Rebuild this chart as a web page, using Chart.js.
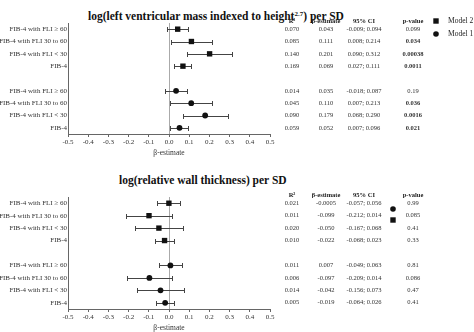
<!DOCTYPE html>
<html>
<head>
<meta charset="utf-8">
<script src="https://cdn.jsdelivr.net/npm/chart.js@4.4.0/dist/chart.umd.min.js"></script>
<style>
  body { margin: 0; background: #fff; width: 474px; height: 332px; overflow: hidden; position: relative; font-family: 'Liberation Serif', serif; }
  .title { position: absolute; font-weight: bold; font-size: 11.5px; line-height: 12px; color: #111; white-space: nowrap; }
  .title sup { font-size: 7px; vertical-align: 4px; line-height: 0; }
  canvas { position: absolute; left: 0; }
</style>
</head>
<body>
<div class="title" style="left:88px;top:10px">log(left ventricular mass indexed to height<sup>2.7</sup>) per SD</div>
<div class="title" style="left:119px;top:174px">log(relative wall thickness) per SD</div>
<canvas id="lvm" width="474" height="158" style="top:0"></canvas>
<canvas id="rwt" width="474" height="167" style="top:166px"></canvas>
<script>
const rowLabels = [
  'FIB-4 with FLI \u2265 60', 'FIB-4 with FLI 30 to 60', 'FIB-4 with FLI < 30', 'FIB-4', '',
  'FIB-4 with FLI \u2265 60', 'FIB-4 with FLI 30 to 60', 'FIB-4 with FLI < 30', 'FIB-4'
];
const model2Rows = [0, 1, 2, 3];
const model1Rows = [5, 6, 7, 8];
const xTickValues = [-0.5, -0.4, -0.3, -0.2, -0.1, 0, 0.1, 0.2, 0.3, 0.4, 0.5];
const xTickLabels = ['-0.5', '-0.4', '-0.3', '-0.2', '-0.1', '0.0', '0.1', '0.2', '0.3', '0.4', '0.5'];
const tableHeaders = ['R\u00b2', '\u03b2-estimate', '95% CI', 'p-value'];
const legendLabels = ['Model 2', 'Model 1'];

// left ventricular mass
const lvmM2R2 = ['0.070', '0.085', '0.140', '0.169'];
const lvmM2Beta = ['0.043', '0.111', '0.201', '0.069'];
const lvmM2CI = ['-0.009; 0.094', '0.008; 0.214', '0.090; 0.312', '0.027; 0.111'];
const lvmM2P = ['0.099', '0.034', '0.00038', '0.0011'];
const lvmM1R2 = ['0.014', '0.045', '0.090', '0.059'];
const lvmM1Beta = ['0.035', '0.110', '0.179', '0.052'];
const lvmM1CI = ['-0.018; 0.087', '0.007; 0.213', '0.068; 0.290', '0.007; 0.096'];
const lvmM1P = ['0.19', '0.036', '0.0016', '0.021'];

// relative wall thickness
const rwtM2R2 = ['0.021', '0.011', '0.020', '0.010'];
const rwtM2Beta = ['-0.0005', '-0.099', '-0.050', '-0.022'];
const rwtM2CI = ['-0.057; 0.056', '-0.212; 0.014', '-0.167; 0.068', '-0.068; 0.023'];
const rwtM2P = ['0.99', '0.085', '0.41', '0.33'];
const rwtM1R2 = ['0.011', '0.006', '0.014', '0.005'];
const rwtM1Beta = ['0.007', '-0.097', '-0.042', '-0.019'];
const rwtM1CI = ['-0.049; 0.063', '-0.209; 0.014', '-0.156; 0.073', '-0.064; 0.026'];
const rwtM1P = ['0.81', '0.086', '0.47', '0.41'];

const FONT = "'Liberation Serif', serif";
const colX = [292, 326, 364, 413];

function points(rows, beta, ci) {
  return rows.map((r, i) => {
    const [lo, hi] = ci[i].split('; ').map(parseFloat);
    return { x: parseFloat(beta[i]), y: r, lo: lo, hi: hi };
  });
}

function drawMarker(ctx, style, x, y) {
  ctx.fillStyle = '#111';
  ctx.beginPath();
  if (style === 'rect') ctx.rect(x - 2.7, y - 2.7, 5.4, 5.4);
  else ctx.arc(x, y, 2.8, 0, Math.PI * 2);
  ctx.fill();
}

function makePlugins(tableRows, legend) {
  const errorBars = {
    id: 'errorBars',
    beforeDatasetsDraw(chart) {
      const ctx = chart.ctx, xs = chart.scales.x, ys = chart.scales.y;
      ctx.save();
      ctx.strokeStyle = '#444';
      ctx.lineWidth = 1;
      chart.data.datasets.forEach(ds => ds.data.forEach(p => {
        const y = Math.round(ys.getPixelForValue(p.y)) + 0.5;
        const x1 = Math.round(xs.getPixelForValue(p.lo)) + 0.5;
        const x2 = Math.round(xs.getPixelForValue(p.hi)) + 0.5;
        ctx.beginPath();
        ctx.moveTo(x1, y); ctx.lineTo(x2, y);
        ctx.moveTo(x1, y - 2.5); ctx.lineTo(x1, y + 2.5);
        ctx.moveTo(x2, y - 2.5); ctx.lineTo(x2, y + 2.5);
        ctx.stroke();
      }));
      ctx.restore();
    }
  };
  const table = {
    id: 'table',
    afterDraw(chart) {
      const ctx = chart.ctx, ys = chart.scales.y;
      ctx.save();
      ctx.textAlign = 'center';
      ctx.textBaseline = 'middle';
      ctx.fillStyle = '#222';
      ctx.font = 'bold 6.5px ' + FONT;
      const hy = chart.chartArea.top - 2;
      tableHeaders.forEach((h, i) => ctx.fillText(h, colX[i], hy));
      tableRows.forEach(t => {
        const y = ys.getPixelForValue(t.row);
        ctx.fillStyle = '#333';
        ctx.font = '6.5px ' + FONT;
        ctx.fillText(t.r2, colX[0], y);
        ctx.fillText(t.beta, colX[1], y);
        ctx.fillText(t.ci, colX[2], y);
        if (parseFloat(t.p) < 0.05) ctx.font = 'bold 6.5px ' + FONT;
        ctx.fillText(t.p, colX[3], y);
      });
      legend.forEach(l => {
        drawMarker(ctx, l.style, l.x, l.y);
        if (l.text) {
          ctx.fillStyle = '#222';
          ctx.font = '7.5px ' + FONT;
          ctx.textAlign = 'left';
          ctx.fillText(l.text, l.x + 12, l.y);
        }
      });
      ctx.restore();
    }
  };
  return [errorBars, table];
}

function buildChart(id, topPad, m2, m1, legend) {
  const tableRows = [];
  model2Rows.forEach((r, i) => tableRows.push({ row: r, r2: m2.r2[i], beta: m2.beta[i], ci: m2.ci[i], p: m2.p[i] }));
  model1Rows.forEach((r, i) => tableRows.push({ row: r, r2: m1.r2[i], beta: m1.beta[i], ci: m1.ci[i], p: m1.p[i] }));
  return new Chart(document.getElementById(id), {
    type: 'scatter',
    data: {
      datasets: [
        { label: legendLabels[0], data: points(model2Rows, m2.beta, m2.ci), pointStyle: 'rect', pointRadius: 3.8, backgroundColor: '#111', borderColor: '#111', borderWidth: 0 },
        { label: legendLabels[1], data: points(model1Rows, m1.beta, m1.ci), pointStyle: 'circle', pointRadius: 2.9, backgroundColor: '#111', borderColor: '#111', borderWidth: 0 }
      ]
    },
    options: {
      responsive: false,
      animation: false,
      layout: { padding: { top: topPad, right: 204, left: 0, bottom: 0 } },
      plugins: { legend: { display: false }, tooltip: { enabled: false } },
      scales: {
        x: {
          type: 'linear', min: -0.5, max: 0.5,
          afterBuildTicks: s => { s.ticks = xTickValues.map(v => ({ value: v })); },
          grid: { color: c => (c.tick && c.tick.value === 0 ? '#aaa' : 'rgba(0,0,0,0)'), tickColor: '#666', tickLength: 3 },
          border: { color: '#666' },
          ticks: { callback: (v, i) => xTickLabels[i], color: '#333', font: { family: FONT, size: 7 }, padding: 1, maxRotation: 0, autoSkip: false },
          title: { display: true, text: '\u03b2-estimate', color: '#333', font: { family: FONT, size: 7.5 }, padding: 0 },
          afterFit: s => { s.height = 24; }
        },
        y: {
          type: 'linear', reverse: true, min: -0.5, max: rowLabels.length - 0.5,
          afterBuildTicks: s => { s.ticks = rowLabels.map((l, i) => ({ value: i })); },
          grid: { display: false, drawTicks: false },
          border: { display: true, color: '#666' },
          ticks: { callback: (v, i) => rowLabels[i], color: '#333', font: { family: FONT, size: 7 }, padding: 1, autoSkip: false },
          afterFit: s => { s.width = 68; }
        }
      }
    },
    plugins: makePlugins(tableRows, legend)
  });
}

buildChart('lvm', 23,
  { r2: lvmM2R2, beta: lvmM2Beta, ci: lvmM2CI, p: lvmM2P },
  { r2: lvmM1R2, beta: lvmM1Beta, ci: lvmM1CI, p: lvmM1P },
  [{ style: 'rect', x: 436, y: 21, text: legendLabels[0] }, { style: 'circle', x: 436, y: 34, text: legendLabels[1] }]);

buildChart('rwt', 31,
  { r2: rwtM2R2, beta: rwtM2Beta, ci: rwtM2CI, p: rwtM2P },
  { r2: rwtM1R2, beta: rwtM1Beta, ci: rwtM1CI, p: rwtM1P },
  [{ style: 'circle', x: 393, y: 43 }, { style: 'rect', x: 393, y: 54 }]);
</script>
</body>
</html>
